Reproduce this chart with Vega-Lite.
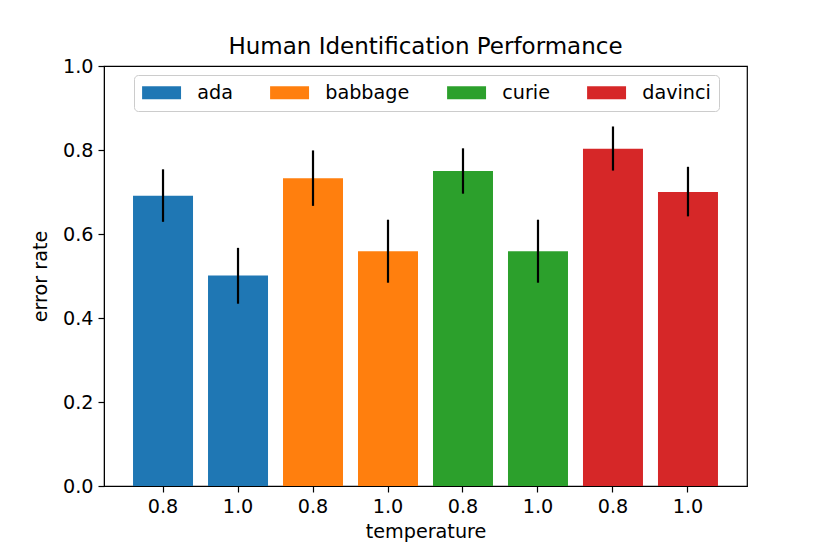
{
  "$schema": "https://vega.github.io/schema/vega-lite/v6.json",
  "width": 643,
  "height": 420,
  "autosize": "none",
  "padding": {"left": 104, "top": 66, "right": 83, "bottom": 68},
  "background": "white",
  "title": {
    "text": "Human Identification Performance",
    "font": "DejaVu Sans",
    "fontSize": 23,
    "fontWeight": "normal",
    "color": "black",
    "anchor": "middle",
    "frame": "group",
    "baseline": "alphabetic",
    "offset": -20
  },
  "config": {
    "font": "DejaVu Sans",
    "view": {"stroke": "black", "strokeWidth": 1.2},
    "axis": {
      "labelFont": "DejaVu Sans",
      "labelFontSize": 19.2,
      "labelColor": "black",
      "titleFont": "DejaVu Sans",
      "titleFontSize": 19.2,
      "titleFontWeight": "normal",
      "titleColor": "black",
      "domainColor": "black",
      "tickColor": "black",
      "tickSize": 6,
      "tickWidth": 1.2,
      "labelPadding": 5,
      "grid": false
    }
  },
  "data": {
    "values": [
      {"bar": "ada|0.8", "model": "ada", "temperature": "0.8", "rate": 0.691, "lo": 0.629, "hi": 0.754},
      {"bar": "ada|1.0", "model": "ada", "temperature": "1.0", "rate": 0.501, "lo": 0.434, "hi": 0.567},
      {"bar": "babbage|0.8", "model": "babbage", "temperature": "0.8", "rate": 0.733, "lo": 0.667, "hi": 0.799},
      {"bar": "babbage|1.0", "model": "babbage", "temperature": "1.0", "rate": 0.559, "lo": 0.484, "hi": 0.634},
      {"bar": "curie|0.8", "model": "curie", "temperature": "0.8", "rate": 0.75, "lo": 0.696, "hi": 0.804},
      {"bar": "curie|1.0", "model": "curie", "temperature": "1.0", "rate": 0.559, "lo": 0.484, "hi": 0.634},
      {"bar": "davinci|0.8", "model": "davinci", "temperature": "0.8", "rate": 0.803, "lo": 0.751, "hi": 0.856},
      {"bar": "davinci|1.0", "model": "davinci", "temperature": "1.0", "rate": 0.7, "lo": 0.642, "hi": 0.76}
    ]
  },
  "encoding": {
    "x": {
      "field": "bar",
      "type": "nominal",
      "sort": null,
      "scale": {"paddingInner": 0.2, "paddingOuter": 0.387},
      "axis": {
        "title": "temperature",
        "labelAngle": 0,
        "labelExpr": "split(datum.value, '|')[1]",
        "titlePadding": 6
      }
    }
  },
  "layer": [
    {
      "mark": {"type": "bar"},
      "encoding": {
        "y": {
          "field": "rate",
          "type": "quantitative",
          "scale": {"domain": [0, 1], "nice": false},
          "axis": {"title": "error rate", "values": [0, 0.2, 0.4, 0.6, 0.8, 1.0], "format": ".1f", "titlePadding": 12}
        },
        "color": {
          "field": "model",
          "type": "nominal",
          "scale": {
            "domain": ["ada", "babbage", "curie", "davinci"],
            "range": ["#1f77b4", "#ff7f0e", "#2ca02c", "#d62728"]
          },
          "legend": {
            "title": null,
            "orient": "none",
            "legendX": 30,
            "legendY": 9,
            "direction": "horizontal",
            "columns": 4,
            "columnPadding": 37,
            "symbolType": "M-1,-0.68H3.1V0.68H-1Z",
            "symbolSize": 361,
            "symbolStrokeWidth": 0,
            "symbolOpacity": 1,
            "labelFont": "DejaVu Sans",
            "labelFontSize": 19.2,
            "labelColor": "black",
            "labelOffset": 36,
            "padding": 8,
            "strokeColor": "#cccccc",
            "fillColor": "rgba(255,255,255,0.8)",
            "cornerRadius": 4
          }
        }
      }
    },
    {
      "mark": {"type": "rule", "color": "black", "strokeWidth": 2.2},
      "encoding": {
        "y": {"field": "lo", "type": "quantitative"},
        "y2": {"field": "hi"}
      }
    }
  ]
}
